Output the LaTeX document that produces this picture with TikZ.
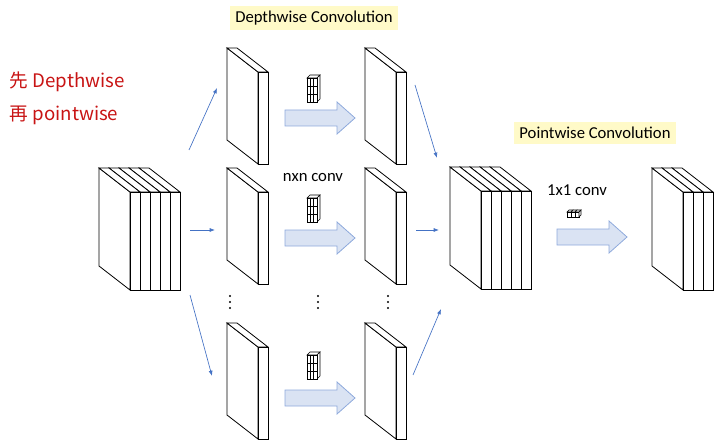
\documentclass[tikz,border=0pt]{standalone}
\usepackage{fontspec}
\setmainfont{Carlito}
\newfontfamily\cjk{Noto Sans CJK SC}
\usetikzlibrary{arrows.meta}
\definecolor{arrowblue}{RGB}{68,114,196}
\definecolor{fillblue}{RGB}{218,227,243}
\definecolor{edgeblue}{RGB}{143,170,220}
\definecolor{labelbg}{RGB}{255,250,200}
\definecolor{handred}{RGB}{200,20,20}
% one slab: left x, top y, height
\newcommand{\convslab}[3]{
\draw[fill=white] (#1,#2) -- (#1+31,#2+24) -- (#1+31,#2+24+#3) -- (#1,#2+#3) -- cycle;
\draw[fill=white] (#1,#2) -- (#1+10,#2) -- (#1+41,#2+24) -- (#1+31,#2+24) -- cycle;
\draw[fill=white] (#1+31,#2+24) rectangle (#1+41,#2+24+#3);
}
% 3x3 kernel icon
\newcommand{\kernel}[2]{
\draw[fill=white,thin] (#1,#2) -- (#1+3,#2-3) -- (#1+13,#2-3) -- (#1+10,#2) -- cycle;
\draw[fill=white,thin] (#1+10,#2) -- (#1+13,#2-3) -- (#1+13,#2+21) -- (#1+10,#2+24) -- cycle;
\draw[fill=white,thin] (#1,#2) rectangle (#1+10,#2+24);
\foreach \k in {1,2} {\draw[thin] (#1+3.33*\k,#2) -- (#1+3.33*\k,#2+24);}
\foreach \k in {1,2} {\draw[thin] (#1,#2+8*\k) -- (#1+10,#2+8*\k);}
}
% block arrow: left x, centre y
\newcommand{\blockarrow}[2]{
\draw[draw=edgeblue,fill=fillblue] (#1,#2-8) -- (#1+52,#2-8) -- (#1+52,#2-16) -- (#1+70,#2)
  -- (#1+52,#2+16) -- (#1+52,#2+8) -- (#1,#2+8) -- cycle;
}
% vertical dots
\newcommand{\vdotsat}[2]{
\foreach \k in {-6,0,6} {\fill (#1,#2+\k) circle[radius=1.1];}
}
\tikzset{
  thin arrow/.style={-{Latex[length=4pt,width=3pt]},arrowblue,line width=0.5pt},
  title box/.style={fill=labelbg,font=\fontsize{12.5}{14}\selectfont,inner sep=4pt},
  conv label/.style={font=\fontsize{12.5}{14}\selectfont},
  hand/.style={handred,font=\cjk\fontsize{14}{16}\selectfont,anchor=west},
}
\begin{document}
\begin{tikzpicture}[x=0.75pt,y=-0.75pt,line width=0.6pt]
\useasboundingbox (0,0) rectangle (720,445);
% input stack
\foreach \i in {4,3,...,0} {\convslab{99+10*\i}{168}{98}}
% depthwise slabs
\foreach \y in {48,168,323} {\convslab{227}{\y}{92}\convslab{365}{\y}{92}}
% output of depthwise
\foreach \i in {4,3,...,0} {\convslab{450+10*\i}{167}{98}}
% output of pointwise
\foreach \i in {2,1,0} {\convslab{652+10*\i}{168}{98}}
% kernels
\foreach \y in {78,198,355} {\kernel{307}{\y}}
\foreach \k in {0,1,2} {\draw[fill=white,thin] (567+4*\k,212) -- (569+4*\k,210) -- (573+4*\k,210) -- (571+4*\k,212) -- cycle;
  \draw[fill=white,thin] (567+4*\k,212) rectangle (571+4*\k,217);}
\draw[fill=white,thin] (579,212) -- (581,210) -- (581,215) -- (579,217) -- cycle;
% block arrows
\blockarrow{285}{118}
\blockarrow{285}{238}
\blockarrow{285}{398}
\blockarrow{557}{237}
% thin arrows
\coordinate (s1) at (189,150); \coordinate (e1) at (217,88);
\coordinate (s2) at (190,230); \coordinate (e2) at (215,230);
\coordinate (s3) at (190,295); \coordinate (e3) at (212,376);
\coordinate (s4) at (415,85);  \coordinate (e4) at (437,158);
\coordinate (s5) at (416,230); \coordinate (e5) at (439,230);
\coordinate (s6) at (413,375); \coordinate (e6) at (441,309);
\foreach \n in {1,...,6} {\draw[thin arrow] (s\n) -- (e\n);}
% dots
\foreach \x in {230,318,388} {\vdotsat{\x}{302}}
% labels
\node[title box] (t1) at (314,18) {Depthwise Convolution};
\node[title box] (t2) at (595,133) {Pointwise Convolution};
\node[conv label] (c1) at (313,178) {nxn conv};
\node[conv label] (c2) at (577,190) {1x1 conv};
\node[hand] (h1) at (5,82) {先 Depthwise};
\node[hand] (h2) at (5,115) {再 pointwise};
\end{tikzpicture}
\end{document}
